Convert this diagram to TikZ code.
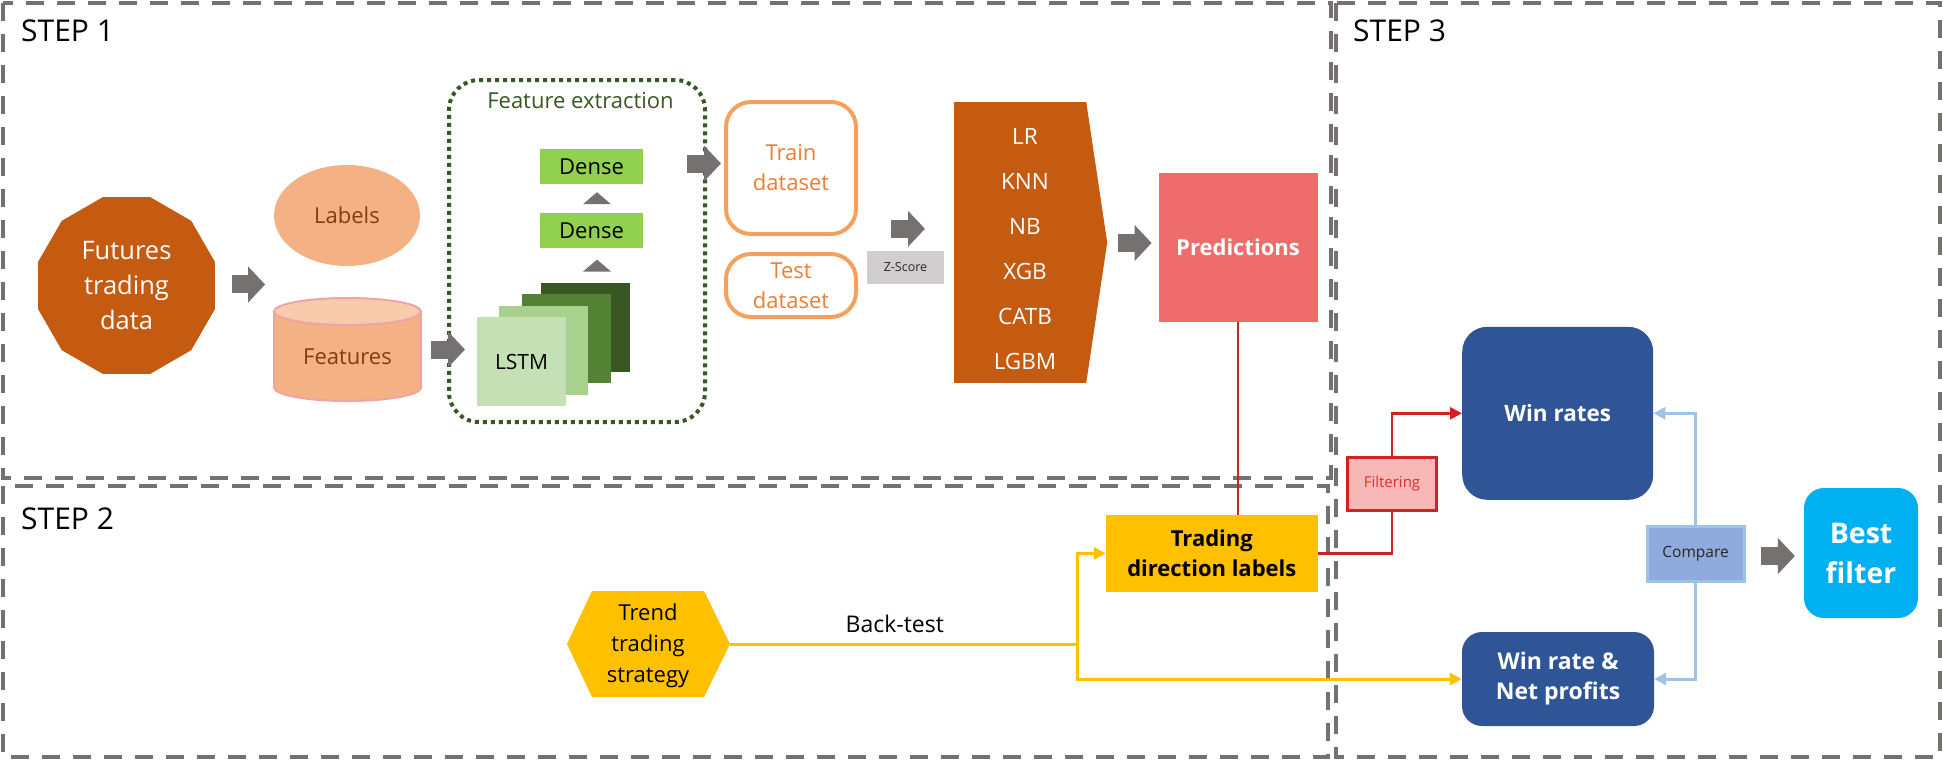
\documentclass[tikz,border=0pt]{standalone}
\usepackage{fontspec}
\setmainfont{Open Sans}
\usetikzlibrary{arrows.meta, positioning, shapes.geometric, calc}

\definecolor{framegray}{HTML}{767171}
\definecolor{darkorange}{HTML}{C55A11}
\definecolor{salmonfill}{HTML}{F4B183}
\definecolor{salmontop}{HTML}{F8CBAD}
\definecolor{pinkline}{HTML}{EFA3A3}
\definecolor{labelbrown}{HTML}{843C0C}
\definecolor{fegreen}{HTML}{385723}
\definecolor{densegreen}{HTML}{92D050}
\definecolor{lstmdark}{HTML}{385723}
\definecolor{lstmmid}{HTML}{548235}
\definecolor{lstmlight}{HTML}{A9D18E}
\definecolor{lstmpale}{HTML}{C5E0B4}
\definecolor{orangeline}{HTML}{F5A15D}
\definecolor{orangetext}{HTML}{ED7D31}
\definecolor{zgray}{HTML}{D0CECE}
\definecolor{predred}{HTML}{EE6C6C}
\definecolor{amber}{HTML}{FFC000}
\definecolor{redline}{HTML}{D02222}
\definecolor{filterfill}{HTML}{F8B8B8}
\definecolor{filtertext}{HTML}{D93030}
\definecolor{winblue}{HTML}{2F5597}
\definecolor{comparefill}{HTML}{8FAADC}
\definecolor{compareline}{HTML}{9DC3E6}
\definecolor{bestblue}{HTML}{00B0F0}

\tikzset{
  stepframe/.style={draw=framegray, line width=4pt, dash pattern=on 18pt off 13pt},
  steplabel/.style={anchor=base west, inner sep=0pt, font=\fontsize{30}{36}\selectfont},
  blockarr/.style={draw=framegray, line width=18pt, -{Triangle[length=17pt,width=35pt]}},
  dense/.style={fill=densegreen, minimum width=103pt, minimum height=35pt, inner sep=0pt, font=\fontsize{22}{26}\selectfont},
  layer/.style={minimum size=89pt, inner sep=0pt, font=\fontsize{21}{25}\selectfont},
  dataset/.style={draw=orangeline, line width=4pt, rounded corners=25pt, minimum width=130pt, text=orangetext, align=center, inner sep=0pt, font=\fontsize{22}{30}\selectfont},
  winbox/.style={fill=winblue, rounded corners=25pt, text=white, align=center, inner sep=0pt, font=\bfseries\fontsize{22.5}{30}\selectfont},
  redconn/.style={draw=redline, line width=2.5pt},
  yconn/.style={draw=amber, line width=3pt},
  bconn/.style={draw=compareline, line width=3pt},
  tip/.style={-{Triangle[length=12pt,width=12pt]}}
}

\begin{document}
\begin{tikzpicture}[x=1pt, y=-1pt]
\useasboundingbox (0,0) rectangle (1943,761);

% step frames
\draw[stepframe] (3,3) rectangle (1331,478);
\draw[stepframe] (3,486) rectangle (1328,757);
\draw[stepframe] (1336,3) rectangle (1940,757);
\node[steplabel] (step1) at (21,41.7) {STEP 1};
\node[steplabel] (step2) at (21,529.5) {STEP 2};
\node[steplabel] (step3) at (1353,41.7) {STEP 3};

% step 1
\node[regular polygon, regular polygon sides=12, minimum size=183pt, inner sep=0pt, fill=darkorange, text=white, align=center, font=\fontsize{25.5}{35}\selectfont] (futures) at (126.5,285.5) {Futures\\trading\\data};
\node[ellipse, fill=salmonfill, minimum width=146pt, minimum height=101pt, inner sep=0pt, text=labelbrown, font=\fontsize{22}{26}\selectfont] (labels) at (347,215.5) {Labels};

\filldraw[fill=salmonfill, draw=pinkline, line width=2pt] (347.5,387.5) ellipse [x radius=73.5, y radius=13.5];
\fill[salmonfill] (274,311.5) rectangle (421,387.5);
\draw[pinkline, line width=2pt] (274,311.5) -- (274,387.5) (421,311.5) -- (421,387.5);
\filldraw[fill=salmontop, draw=pinkline, line width=2pt] (347.5,311.5) ellipse [x radius=73.5, y radius=13.5];
\node[text=labelbrown, font=\fontsize{22}{26}\selectfont] (features) at (347.5,357) {Features};

\node[draw=fegreen, line width=4pt, dash pattern=on 4pt off 4pt, rounded corners=30pt, minimum width=256pt, minimum height=342pt] (fe) at (577,251) {};
\node[text=fegreen, font=\fontsize{22}{26}\selectfont] (fetitle) at (580.5,101) {Feature extraction};
\node[dense] (dense1) at (591.5,166.5) {Dense};
\node[dense, below=29pt of dense1] (dense2) {Dense};
\node[layer, fill=lstmdark] (lstm4) at (585.5,327.5) {};
\node[layer, fill=lstmmid] (lstm3) at (566,338.5) {};
\node[layer, fill=lstmlight] (lstm2) at (543.5,350) {};
\node[layer, fill=lstmpale] (lstm1) at (521.5,361.5) {LSTM};
\fill[framegray] ($(dense2.north)+(-8.5,-9)$) -- ++(28,0) -- ++(-14,-12) -- cycle;
\fill[framegray] ($(dense2.south)+(-8.5,23)$) -- ++(28,0) -- ++(-14,-12) -- cycle;

\node[dataset, minimum height=132pt] (train) at (791,168) {Train\\dataset};
\node[dataset, minimum height=63pt, below=16pt of train] (test) {Test\\dataset};
\node[fill=zgray, minimum width=77pt, minimum height=33pt, inner sep=0pt, text=black!85, font=\fontsize{12.5}{15}\selectfont] (zscore) at (905.5,267.5) {Z-Score};

\node[fill=darkorange, minimum width=132pt, minimum height=281pt, inner sep=0pt] (models) at (1020,242.5) {};
\fill[darkorange] ($(models.north east)+(-1,0)$) -- (models.north east) -- ($(models.east)+(21,0)$) -- (models.south east) -- ($(models.south east)+(-1,0)$) -- cycle;
\node[text=white, align=center, font=\fontsize{22.5}{45}\selectfont] (modelnames) at (1025,249) {LR\\KNN\\NB\\XGB\\CATB\\LGBM};
\node[fill=predred, minimum width=159pt, minimum height=149pt, inner sep=0pt, text=white, font=\bfseries\fontsize{22}{26}\selectfont] (predictions) at (1238,247.4) {Predictions};

\draw[blockarr] ($(futures.east)+(17,-1)$) -- ++(33,0);
\draw[blockarr] ($(features.center)+(83.5,-7.5)$) -- ++(34,0);
\draw[blockarr] ($(fe.east |- train.west)+(-20,-4.5)$) -- ++(34,0);
\draw[blockarr] ($(zscore.north)+(-14.5,-22)$) -- ++(34,0);
\draw[blockarr] ($(predictions.west)+(-40.7,-4.4)$) -- ++(34,0);

% step 2
\node[fill=amber, minimum width=211.5pt, minimum height=76.7pt, inner sep=0pt, align=center, font=\bfseries\fontsize{22}{30}\selectfont] (trading) at (1211.8,553.4) {Trading\\direction labels};
\fill[amber] (567,644) -- (592,591) -- (704,591) -- (730,644) -- (704,697) -- (592,697) -- cycle;
\node[align=center, inner sep=0pt, font=\fontsize{22}{31}\selectfont] (trend) at (648,646) {Trend\\trading\\strategy};
\coordinate (trendtip) at (730,644);
\coordinate (split) at (1077,644);

% step 3
\node[winbox, minimum width=191pt, minimum height=173pt] (winrates) at (1557.7,413.3) {Win rates};
\node[winbox, minimum width=192pt, minimum height=94pt, rounded corners=20pt, font=\bfseries\fontsize{23}{30}\selectfont] (winnet) at (1558,679) {Win rate \&\\Net profits};
\node[draw=redline, line width=3pt, fill=filterfill, text=filtertext, minimum width=89pt, minimum height=53pt, inner sep=0pt, font=\fontsize{15}{18}\selectfont] (filtering) at (1392,483.9) {Filtering};
\node[draw=compareline, line width=3pt, fill=comparefill, text=black!85, minimum width=97pt, minimum height=54.4pt, inner sep=0pt, font=\fontsize{15.5}{18}\selectfont] (compare) at (1695.6,554) {Compare};
\node[fill=bestblue, rounded corners=20pt, minimum width=114pt, minimum height=130pt, inner sep=0pt, text=white, align=center, font=\bfseries\fontsize{28.5}{40}\selectfont] (best) at (1861,553) {Best\\filter};
\draw[blockarr] ($(compare.east)+(15.3,2)$) -- ++(34,0);

% connectors
\draw[redconn] (predictions.south) -- (predictions.south |- trading.north);
\draw[redconn] (trading.east) -| (filtering.south);
\draw[redconn, tip] (filtering.north) |- (winrates.west);
\draw[yconn] (trendtip) -- node[above=10pt, inner sep=0pt, pos=0.475, font=\fontsize{23}{27}\selectfont] (backtest) {Back-test} (split);
\draw[yconn, tip] (split) |- (trading.west);
\draw[yconn, tip] (split) |- (winnet.west);
\draw[bconn, tip] (compare.north) |- (winrates.east);
\draw[bconn, tip] (compare.south) |- (winnet.east);
\end{tikzpicture}
\end{document}
